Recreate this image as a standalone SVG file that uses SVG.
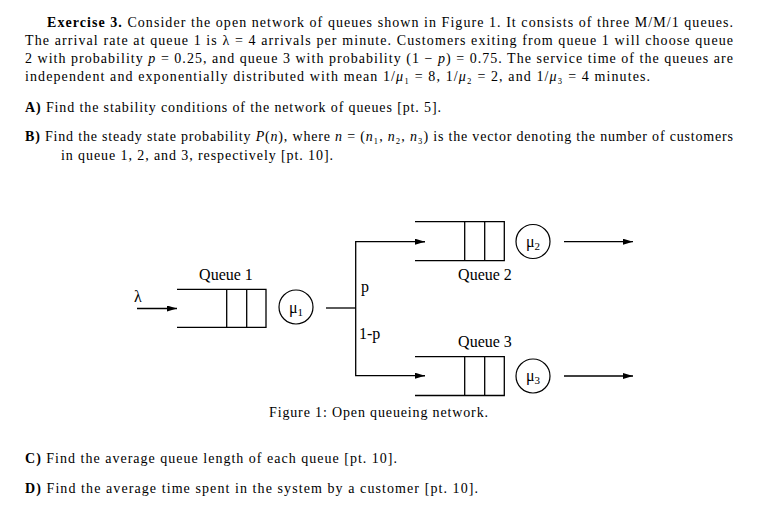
<svg xmlns="http://www.w3.org/2000/svg" width="763" height="510" viewBox="0 0 763 510">
<defs>
<style>
text{font-family:"Liberation Serif","Times New Roman",serif;font-size:14px;fill:#000}
.l{stroke:#000;stroke-width:1.3;fill:none}
.c{stroke:#000;stroke-width:1.2;fill:#fff}
.d{font-size:16px}
</style>
<marker id="a" markerWidth="10" markerHeight="6" refX="10" refY="3" orient="auto" markerUnits="userSpaceOnUse"><path d="M0,0 L10,3 L0,6 Z" fill="#000"/></marker>
</defs>
<rect width="763" height="510" fill="#fff"/>
<text x="47" y="27" textLength="686" lengthAdjust="spacing"><tspan font-weight="bold">Exercise 3.</tspan> Consider the open network of queues shown in Figure 1. It consists of three M/M/1 queues.</text>
<text x="25" y="45" textLength="708" lengthAdjust="spacing">The arrival rate at queue 1 is λ = 4 arrivals per minute. Customers exiting from queue 1 will choose queue</text>
<text x="25" y="63" textLength="708" lengthAdjust="spacing">2 with probability <tspan font-style="italic">p</tspan> = 0.25, and queue 3 with probability (1 − <tspan font-style="italic">p</tspan>) = 0.75. The service time of the queues are</text>
<text x="25" y="81" textLength="625" lengthAdjust="spacing">independent and exponentially distributed with mean 1/<tspan font-style="italic">μ</tspan>₁ = 8, 1/<tspan font-style="italic">μ</tspan>₂ = 2, and 1/<tspan font-style="italic">μ</tspan>₃ = 4 minutes.</text>
<text x="25" y="112" textLength="416" lengthAdjust="spacing"><tspan font-weight="bold">A)</tspan> Find the stability conditions of the network of queues [pt. 5].</text>
<text x="25" y="141" textLength="708" lengthAdjust="spacing"><tspan font-weight="bold">B)</tspan> Find the steady state probability <tspan font-style="italic">P</tspan>(<tspan font-style="italic">n</tspan>), where <tspan font-style="italic">n</tspan> = (<tspan font-style="italic">n</tspan>₁, <tspan font-style="italic">n</tspan>₂, <tspan font-style="italic">n</tspan>₃) is the vector denoting the number of customers</text>
<text x="61" y="160" textLength="272" lengthAdjust="spacing">in queue 1, 2, and 3, respectively [pt. 10].</text>
<text x="25" y="463" textLength="372" lengthAdjust="spacing"><tspan font-weight="bold">C)</tspan> Find the average queue length of each queue [pt. 10].</text>
<text x="25" y="493" textLength="453" lengthAdjust="spacing"><tspan font-weight="bold">D)</tspan> Find the average time spent in the system by a customer [pt. 10].</text>
<text x="269" y="417" textLength="219" lengthAdjust="spacing">Figure 1: Open queueing network.</text>

<g id="connectors">
<line class="l" x1="137" y1="308.5" x2="177" y2="308.5" marker-end="url(#a)"/>
<polyline class="l" points="326,308 355.7,308"/>
<polyline class="l" points="425,241.7 355.7,241.7 355.7,375.7 425,375.7"/>
<line class="l" x1="415" y1="241.7" x2="425" y2="241.7" marker-end="url(#a)"/>
<line class="l" x1="415" y1="375.7" x2="425" y2="375.7" marker-end="url(#a)"/>
<line class="l" x1="564" y1="241.7" x2="633" y2="241.7" marker-end="url(#a)"/>
<line class="l" x1="564" y1="376" x2="633" y2="376" marker-end="url(#a)"/>
</g>
<g id="lambda"><text class="d" x="134" y="302">λ</text></g>
<g id="queue1">
<path class="l" d="M177,289.3 H266 V327.3 H177 M226.7,289.3 V327.3 M246.7,289.3 V327.3"/>
<text class="d" x="226" y="280" text-anchor="middle">Queue 1</text>
</g>
<g id="server1"><circle class="c" cx="296" cy="307" r="17"/><text class="d" x="289" y="313">μ<tspan font-size="11" dy="3">1</tspan></text></g>
<g id="branchlabels"><text class="d" x="361" y="292">p</text><text class="d" x="359" y="339">1-p</text></g>
<g id="queue2">
<path class="l" d="M415,221.7 H504.3 V260.7 H415 M464.7,221.7 V260.7 M484.7,221.7 V260.7"/>
<text class="d" x="485" y="280" text-anchor="middle">Queue 2</text>
</g>
<g id="server2"><circle class="c" cx="533" cy="241.5" r="17"/><text class="d" x="526" y="247">μ<tspan font-size="11" dy="3">2</tspan></text></g>
<g id="queue3">
<path class="l" d="M415,356.7 H504.3 V395.5 H415 M464.7,356.7 V395.5 M484.7,356.7 V395.5"/>
<text class="d" x="485" y="347" text-anchor="middle">Queue 3</text>
</g>
<g id="server3"><circle class="c" cx="533" cy="376" r="17"/><text class="d" x="526" y="381">μ<tspan font-size="11" dy="3">3</tspan></text></g>
</svg>
